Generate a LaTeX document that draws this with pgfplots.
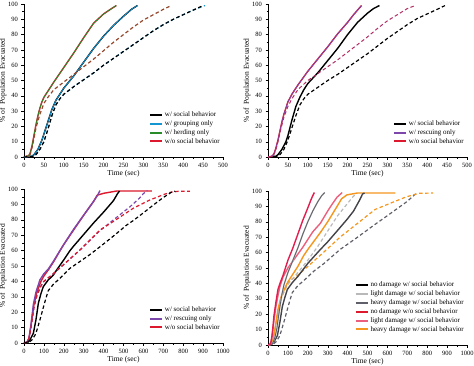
\documentclass[border=0pt]{standalone}
\usepackage{pgfplots}
\pgfplotsset{compat=1.18}
\usepackage{fontspec}
\setmainfont{Liberation Serif}
\definecolor{cblue}{RGB}{20,150,210}
\definecolor{cgreen}{RGB}{40,140,40}
\definecolor{cred}{RGB}{220,25,45}
\definecolor{cpurple}{RGB}{125,70,170}
\definecolor{crim}{RGB}{225,30,80}
\definecolor{cpink}{RGB}{235,95,125}
\definecolor{corange}{RGB}{245,150,30}
\definecolor{lgray}{RGB}{185,185,185}
\definecolor{dgray}{RGB}{95,95,105}
\pgfplotsset{
  panel/.style={
    scale only axis, width=199pt, height=153pt, anchor=south west,
    axis lines=left, axis line style={-, thin},
    ymin=0, ymax=100, ytick={0,10,...,100}, minor tick num=1,
    tick align=outside, tick style={thin, black},
    major tick length=2.5pt, minor tick length=1.5pt,
    tick label style={font=\fontsize{6.5}{7}\selectfont},
    /pgf/number format/assume math mode=true,
    /pgf/number format/1000 sep={},
    xlabel={Time (sec)}, ylabel={\% of \ Population Evacuated},
    label style={font=\fontsize{7.5}{8}\selectfont},
    xlabel style={yshift=4pt}, ylabel style={yshift=-5pt},
    legend cell align=left,
    legend style={draw=none, fill=none, at={(1,0.06)}, anchor=south east,
      font=\fontsize{7}{8}\selectfont, row sep=-1.5pt, inner sep=1pt},
    legend image code/.code={\draw[##1, solid, line width=2pt] (0pt,0pt) -- (12pt,0pt);},
  },
  sol/.style={solid, line width=1.4pt},
  thn/.style={solid, line width=0.8pt},
  dsh/.style={dash pattern=on 3.5pt off 2.5pt, line width=1.2pt},
}
\begin{document}
\begin{tikzpicture}
\path[use as bounding box] (0,0) rectangle (474pt,365pt);
% ---------------- Panel 1
\begin{axis}[panel, at={(24pt,208pt)}, xmin=0, xmax=500, xtick={0,50,...,500}]
\addplot[forget plot, sol, black] coordinates {(0,0)(20,0.5)(25,1.5)(35,5)(45,11)(50,15)(60,23)(70,31)(80,37)(90,41)(100,45)(125,53)(150,62)(175,71)(200,79)(225,86)(250,92)(270,96.5)(285,99)};
\addplot[forget plot, thn, cblue] coordinates {(0,0)(20,0.5)(25,1.5)(35,5)(45,11)(50,15)(60,23)(70,31)(80,37)(90,41)(100,45)(125,53)(150,62)(175,71)(200,79)(225,86)(250,92)(270,96.5)(285,99)};
\addplot[forget plot, sol, cred] coordinates {(0,0)(10,0.5)(15,2)(20,7)(25,14)(30,21)(35,27)(40,32)(45,36)(50,39)(60,43)(75,49)(100,58.5)(125,68)(150,78)(175,87.5)(200,93.5)(220,97)(232,99)};
\addplot[forget plot, thn, cgreen] coordinates {(0,0)(10,0.5)(15,2)(20,7)(25,14)(30,21)(35,27)(40,32)(45,36)(50,39)(60,43)(75,49)(100,58.5)(125,68)(150,78)(175,87.5)(200,93.5)(220,97)(232,99)};
\addplot[forget plot, dsh, cred!60!cgreen] coordinates {(0,0)(15,1.5)(20,6)(25,12)(30,19)(40,28)(50,35)(60,39)(75,44)(100,49)(125,54)(150,59)(175,64)(200,69.5)(225,75)(250,80)(275,85)(300,89.5)(325,93)(350,96.5)(370,99)};
\addplot[forget plot, dsh, cblue] coordinates {(0,0)(25,0.5)(30,1.5)(40,5)(50,10)(60,18)(70,27)(80,34)(90,38)(100,41)(125,46)(150,50.5)(175,55)(200,60)(225,64.5)(250,69)(275,73.5)(300,78)(325,82.5)(350,86.5)(375,90)(400,93)(425,96)(455,99)};
\addplot[forget plot, dsh, black] coordinates {(0,0)(25,0.5)(30,1.5)(40,5)(50,10)(60,18)(70,27)(80,34)(90,38)(100,41)(125,46)(150,50.5)(175,55)(200,60)(225,64.5)(250,69)(275,73.5)(300,78)(325,82.5)(350,86.5)(375,90)(400,93)(425,96)(450,99)};
\addlegendimage{black}\addlegendentry{w/ social behavior}
\addlegendimage{cblue}\addlegendentry{w/ grouping only}
\addlegendimage{cgreen}\addlegendentry{w/ herding only}
\addlegendimage{cred}\addlegendentry{w/o social behavior}
\end{axis}
% ---------------- Panel 2
\begin{axis}[panel, at={(268pt,208pt)}, xmin=0, xmax=500, xtick={0,50,...,500}]
\addplot[forget plot, sol, black] coordinates {(0,0)(20,0.5)(25,1.5)(35,5)(45,10)(50,14)(60,24)(70,33)(80,39)(90,44)(100,48)(125,55)(150,63)(175,71)(200,80)(225,88)(250,94)(265,97)(280,99)};
\addplot[forget plot, dsh, black] coordinates {(0,0)(25,0.5)(30,1.5)(40,5)(50,11)(60,19)(70,27)(80,34)(90,38)(100,41)(125,45.5)(150,50)(175,54)(200,58.5)(225,63)(250,67.5)(275,72.5)(300,77.5)(325,82)(350,86.5)(375,90.5)(400,93.5)(425,96.5)(445,99)};
\addplot[forget plot, sol, cred] coordinates {(0,0)(10,0.5)(15,2)(20,6)(25,11)(30,17)(35,23)(40,28)(45,32)(50,36)(60,41)(75,47)(100,56)(125,64)(150,72)(175,80.5)(200,88)(215,93)(225,96)(235,99)};
\addplot[forget plot, thn, cpurple] coordinates {(0,0)(10,0.5)(15,2)(20,6)(25,11)(30,17)(35,23)(40,28)(45,32)(50,36)(60,41)(75,47)(100,56)(125,64)(150,72)(175,80.5)(200,88)(215,93)(225,96)(235,99)};
\addplot[forget plot, dsh, line width=1pt, cred!55!cpurple] coordinates {(0,0)(10,0.5)(15,2)(20,5)(25,10)(30,16)(35,21)(40,26)(50,33)(60,38)(75,44)(100,50)(125,54.5)(150,59)(175,63.5)(200,68.5)(225,73.5)(250,78.5)(275,84)(300,89)(325,93)(350,97)(360,98)(370,99)};
\addlegendimage{black}\addlegendentry{w/ social behavior}
\addlegendimage{cpurple}\addlegendentry{w/ rescuing only}
\addlegendimage{cred}\addlegendentry{w/o social behavior}
\end{axis}
% ---------------- Panel 3
\begin{axis}[panel, at={(24pt,22pt)}, height=154pt, xmin=0, xmax=1000, xtick={0,100,...,1000}]
\addplot[forget plot, sol, cred] coordinates {(0,0)(15,0.5)(25,3)(35,11)(50,25)(65,33)(85,40)(100,43.5)(125,48)(150,53)(181,60)(200,64)(250,73.5)(300,83)(350,92)(368,96)(400,97.2)(466,98.7)(642,98.7)};
\addplot[forget plot, sol, cpurple] coordinates {(0,0)(15,0.5)(25,3)(35,12)(47,25)(60,33)(80,41)(100,45)(122,48)(150,53.5)(181,60)(200,64)(250,74)(300,83)(350,92)(370,96)(382,99)};
\addplot[forget plot, sol, black] coordinates {(0,0)(20,0.5)(30,2)(47,6.3)(60,15)(72,25.7)(85,32)(97,36.6)(122,41)(147,44)(164,47.4)(200,54)(231,60)(250,63)(300,70.5)(350,78)(400,85)(450,92.5)(470,97)(480,98.7)};
\addplot[forget plot, dsh, cpurple] coordinates {(0,0)(15,0.5)(25,3)(35,10)(50,23)(65,31)(85,37)(100,40)(147,45)(200,51)(281,60.4)(382,73)(450,80)(533,88.5)(580,94)(600,97)(620,99)};
\addplot[forget plot, dsh, cred] coordinates {(0,0)(15,0.5)(25,3)(35,10)(50,23)(65,31)(85,37)(100,40)(147,45)(200,51)(281,60.4)(382,73.4)(450,79)(549,87.5)(633,92.9)(700,96.3)(734,97.8)(780,98.6)(834,98.6)};
\addplot[forget plot, dsh, black] coordinates {(0,0)(25,0.5)(40,2)(55,5)(64,8)(80,15)(97,23)(110,29)(122,34)(150,38.5)(181,42)(231,48.5)(282,53)(332,57.5)(382,62.5)(450,69.5)(516,76.6)(549,79.5)(600,84.5)(650,89.6)(700,94.5)(742,98)(760,98.6)};
\addlegendimage{black}\addlegendentry{w/ social behavior}
\addlegendimage{cpurple}\addlegendentry{w/ rescuing only}
\addlegendimage{cred}\addlegendentry{w/o social behavior}
\end{axis}
% ---------------- Panel 4
\begin{axis}[panel, at={(268pt,20pt)}, height=154pt, xmin=0, xmax=1000, xtick={0,100,...,1000}]
\addplot[forget plot, dsh, dgray] coordinates {(0,0)(25,0.5)(40,2)(55,5)(64,8)(80,15)(97,23)(110,29)(122,34)(150,38.5)(181,42)(231,48)(282,53)(362,62)(450,70)(529,77.5)(600,84)(697,93)(747,98.7)};
\addplot[forget plot, dsh, corange] coordinates {(0,0)(15,0.5)(25,3)(35,10)(50,22)(65,30)(85,36)(112,42)(147,45)(200,51)(281,60.4)(362,70)(450,79)(538,88)(633,93)(697,96.3)(760,98.5)(830,98.7)};
\addplot[forget plot, dsh, lgray] coordinates {(0,0)(15,0.5)(25,3)(35,10)(50,22)(65,30)(85,36)(100,39.5)(150,47)(200,55)(250,64)(300,74)(350,84)(400,92)(425,96)(445,98.7)};
\addplot[forget plot, sol, corange] coordinates {(0,0)(15,0.5)(25,3)(35,10)(50,23)(65,31)(85,37)(100,41)(125,46)(150,51)(179,58)(200,62)(263,73)(300,80)(347,90)(370,95)(397,97.5)(450,98.7)(640,98.7)};
\addplot[forget plot, sol, dgray!70!black] coordinates {(0,0)(20,0.5)(30,2)(47,6)(60,15)(72,25)(85,31)(97,36)(122,40.5)(150,44.5)(200,53)(263,62)(300,67)(347,74)(400,82)(430,87)(460,94)(475,98)(485,98.7)};
\addplot[forget plot, sol, cpink] coordinates {(0,0)(10,0.5)(15,2)(20,5)(25,10)(30,16)(40,25)(50,32)(60,38)(75,44)(100,50)(125,54.5)(150,59)(175,63.5)(200,68.5)(225,73.5)(263,79)(300,87)(320,91)(347,96)(373,99)};
\addplot[forget plot, sol, lgray] coordinates {(0,0)(20,0.5)(25,1.5)(35,5)(45,11)(50,16)(60,25)(70,33)(80,39)(90,43)(100,47)(125,55)(150,63)(175,72)(200,80)(225,87)(250,93)(270,97)(285,99)};
\addplot[forget plot, thn, dgray] coordinates {(0,0)(20,0.5)(25,1.5)(35,5)(45,11)(50,16)(60,25)(70,33)(80,39)(90,43)(100,47)(125,55)(150,63)(175,72)(200,80)(225,87)(250,93)(270,97)(285,99)};
\addplot[forget plot, sol, crim] coordinates {(0,0)(10,0.5)(15,2)(20,6)(25,12)(30,19)(40,28)(50,36)(60,40)(75,45)(100,55)(125,63)(150,72)(175,81)(200,89)(215,94)(225,97)(233,99)};
\addlegendimage{black}\addlegendentry{no damage w/ social behavior}
\addlegendimage{lgray}\addlegendentry{light damage w/ social behavior}
\addlegendimage{dgray}\addlegendentry{heavy damage w/ social behavior}
\addlegendimage{cred}\addlegendentry{no damage w/o social behavior}
\addlegendimage{cpink}\addlegendentry{light damage w/ social behavior}
\addlegendimage{corange}\addlegendentry{heavy damage w/ social behavior}
\end{axis}
\end{tikzpicture}
\end{document}
